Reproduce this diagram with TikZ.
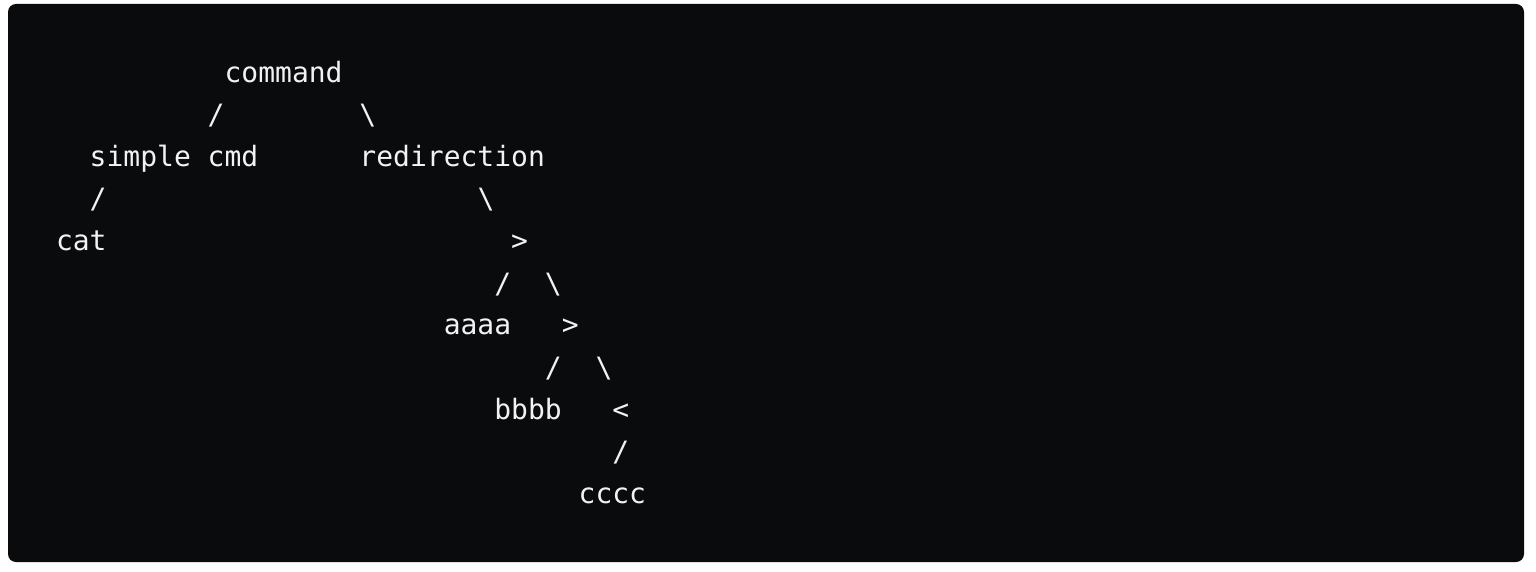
\documentclass[tikz,border=0pt]{standalone}
\usepackage{fontspec}
\setmonofont{DejaVu Sans Mono}
\definecolor{codebg}{HTML}{0A0B0D}
\definecolor{codefg}{HTML}{F2F2F2}
\tikzset{
  tok/.style={anchor=base west, inner sep=0pt, outer sep=0pt, text=codefg,
    font=\ttfamily\fontsize{14}{16}\selectfont},
}
\newcommand{\colx}[1]{56+16.86*#1}
\begin{document}
\begin{tikzpicture}[x=0.5pt,y=-0.5pt]
\useasboundingbox (0,0) rectangle (1536,572);
\fill[white] (0,0) rectangle (1536,572);
\fill[codebg, rounded corners=4pt] (8,4) rectangle (1524,562);
% line 0
\node[tok] (command) at ({\colx{10}},83) {command};
% line 1
\node[tok] (s1) at ({\colx{9}},125) {/};
\node[tok] (b1) at ({\colx{18}},125) {\textbackslash};
% line 2
\node[tok] (simple) at ({\colx{2}},167) {simple cmd};
\node[tok] (redir) at ({\colx{18}},167) {redirection};
% line 3
\node[tok] (s2) at ({\colx{2}},209) {/};
\node[tok] (b2) at ({\colx{25}},209) {\textbackslash};
% line 4
\node[tok] (cat) at ({\colx{0}},251) {cat};
\node[tok] (gt1) at ({\colx{27}},251) {>};
% line 5
\node[tok] (s3) at ({\colx{26}},293) {/};
\node[tok] (b3) at ({\colx{29}},293) {\textbackslash};
% line 6
\node[tok] (aaaa) at ({\colx{23}},335) {aaaa};
\node[tok] (gt2) at ({\colx{30}},335) {>};
% line 7
\node[tok] (s4) at ({\colx{29}},377) {/};
\node[tok] (b4) at ({\colx{32}},377) {\textbackslash};
% line 8
\node[tok] (bbbb) at ({\colx{26}},419) {bbbb};
\node[tok] (lt) at ({\colx{33}},419) {<};
% line 9
\node[tok] (s5) at ({\colx{33}},461) {/};
% line 10
\node[tok] (cccc) at ({\colx{31}},503) {cccc};
\end{tikzpicture}
\end{document}
